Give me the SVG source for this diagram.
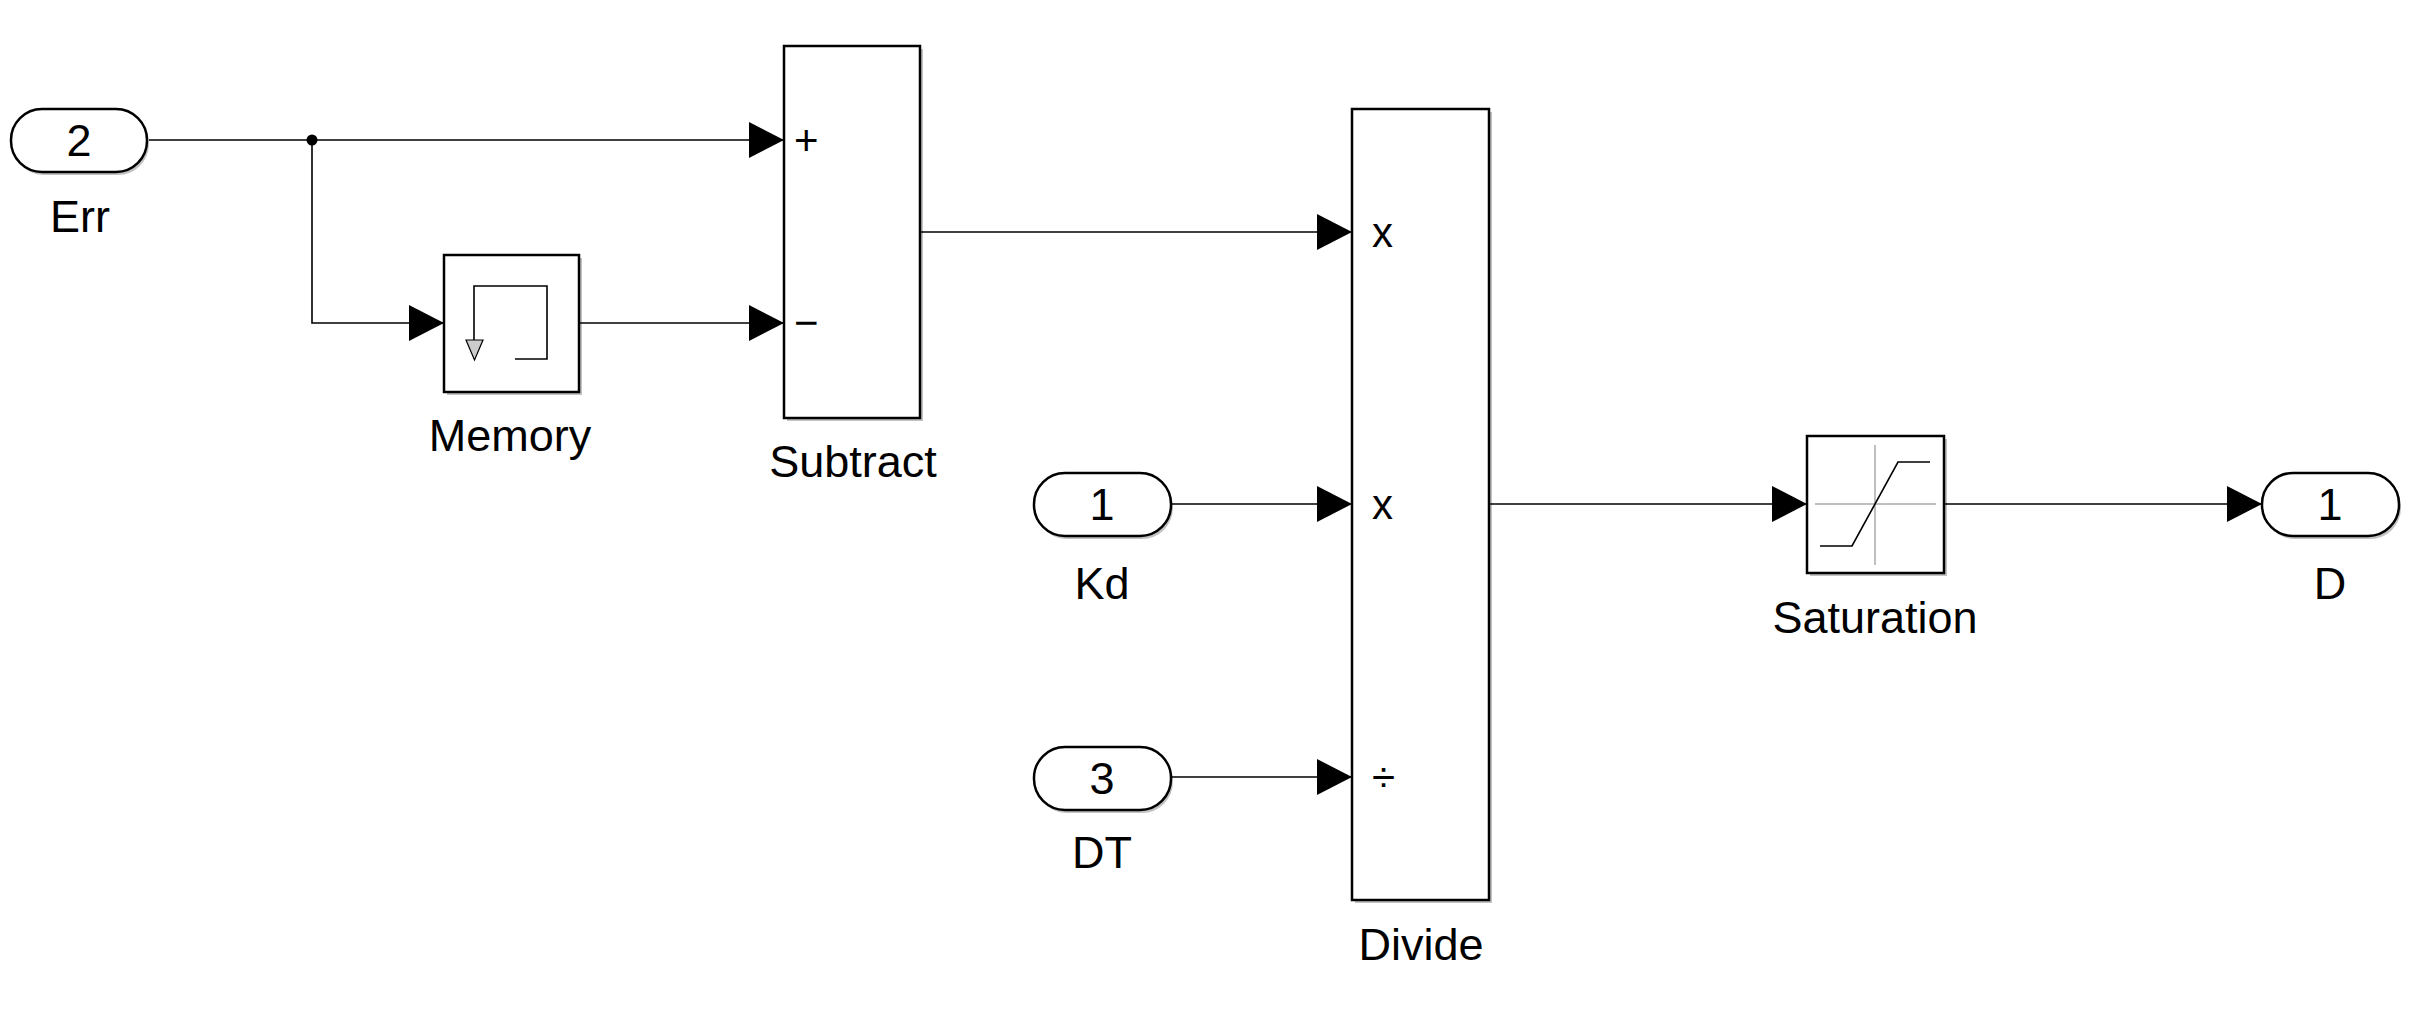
<svg xmlns="http://www.w3.org/2000/svg" width="2409" height="1020" viewBox="0 0 2409 1020">
<style>
.blk{fill:#fff;stroke:#000;stroke-width:2.5}
.sh{fill:#999;opacity:.6}
.ln{fill:none;stroke:#000;stroke-width:1.6}
.t{font-family:"Liberation Sans",Arial,sans-serif;font-size:45px;fill:#000;text-anchor:middle}
.p{font-family:"Liberation Sans",Arial,sans-serif;font-size:42px;fill:#000}
</style>
<defs>
<marker id="a" markerWidth="35" markerHeight="36" refX="35" refY="18" orient="auto" markerUnits="userSpaceOnUse"><path d="M0,0 L35,18 L0,36 Z" fill="#000"/></marker>
</defs>
<rect width="2409" height="1020" fill="#fff"/>
<g id="Err">
<rect x="13" y="112" width="136" height="63" rx="31" class="sh"/>
<rect x="11" y="109" width="136" height="63" rx="31" class="blk"/>
<text x="79" y="156" class="t">2</text>
<text x="80" y="232" class="t">Err</text>
</g>
<g id="Memory">
<rect x="447" y="258" width="135" height="137" class="sh"/>
<rect x="444" y="255" width="135" height="137" class="blk"/>
<path d="M474,340 V286 H547 V359 H515" class="ln"/>
<path d="M466,340 H483 L474.5,360 Z" fill="#ccc" stroke="#000" stroke-width="1.2"/>
<text x="510" y="451" class="t">Memory</text>
</g>
<g id="Subtract">
<rect x="787" y="49" width="136" height="372" class="sh"/>
<rect x="784" y="46" width="136" height="372" class="blk"/>
<text x="794" y="155" class="p">+</text>
<text x="794" y="337" class="p">−</text>
<text x="853" y="477" class="t">Subtract</text>
</g>
<g id="Divide">
<rect x="1355" y="112" width="137" height="791" class="sh"/>
<rect x="1352" y="109" width="137" height="791" class="blk"/>
<text x="1372" y="247" class="p">x</text>
<text x="1372" y="519" class="p">x</text>
<text x="1372" y="792" class="p">÷</text>
<text x="1421" y="960" class="t">Divide</text>
</g>
<g id="Kd">
<rect x="1036" y="476" width="137" height="63" rx="31" class="sh"/>
<rect x="1034" y="473" width="137" height="63" rx="31" class="blk"/>
<text x="1102" y="520" class="t">1</text>
<text x="1102" y="599" class="t">Kd</text>
</g>
<g id="DT">
<rect x="1036" y="750" width="137" height="63" rx="31" class="sh"/>
<rect x="1034" y="747" width="137" height="63" rx="31" class="blk"/>
<text x="1102" y="794" class="t">3</text>
<text x="1102" y="868" class="t">DT</text>
</g>
<g id="Saturation">
<rect x="1810" y="439" width="137" height="137" class="sh"/>
<rect x="1807" y="436" width="137" height="137" class="blk"/>
<path d="M1815,504 H1936 M1875,445 V565" fill="none" stroke="#aaa" stroke-width="1.5"/>
<path d="M1820,546 H1852 L1898,462 H1930" class="ln"/>
<text x="1875" y="633" class="t">Saturation</text>
</g>
<g id="D">
<rect x="2264" y="476" width="137" height="63" rx="31" class="sh"/>
<rect x="2262" y="473" width="137" height="63" rx="31" class="blk"/>
<text x="2330" y="520" class="t">1</text>
<text x="2330" y="599" class="t">D</text>
</g>
<g id="connectors">
<path d="M149,140 H784" class="ln" marker-end="url(#a)"/>
<path d="M312,140 V323 H444" class="ln" marker-end="url(#a)"/>
<circle cx="312" cy="140" r="5.5" fill="#000"/>
<path d="M579,323 H784" class="ln" marker-end="url(#a)"/>
<path d="M920,232 H1352" class="ln" marker-end="url(#a)"/>
<path d="M1171,504 H1352" class="ln" marker-end="url(#a)"/>
<path d="M1171,777 H1352" class="ln" marker-end="url(#a)"/>
<path d="M1489,504 H1807" class="ln" marker-end="url(#a)"/>
<path d="M1944,504 H2262" class="ln" marker-end="url(#a)"/>
</g>
</svg>
